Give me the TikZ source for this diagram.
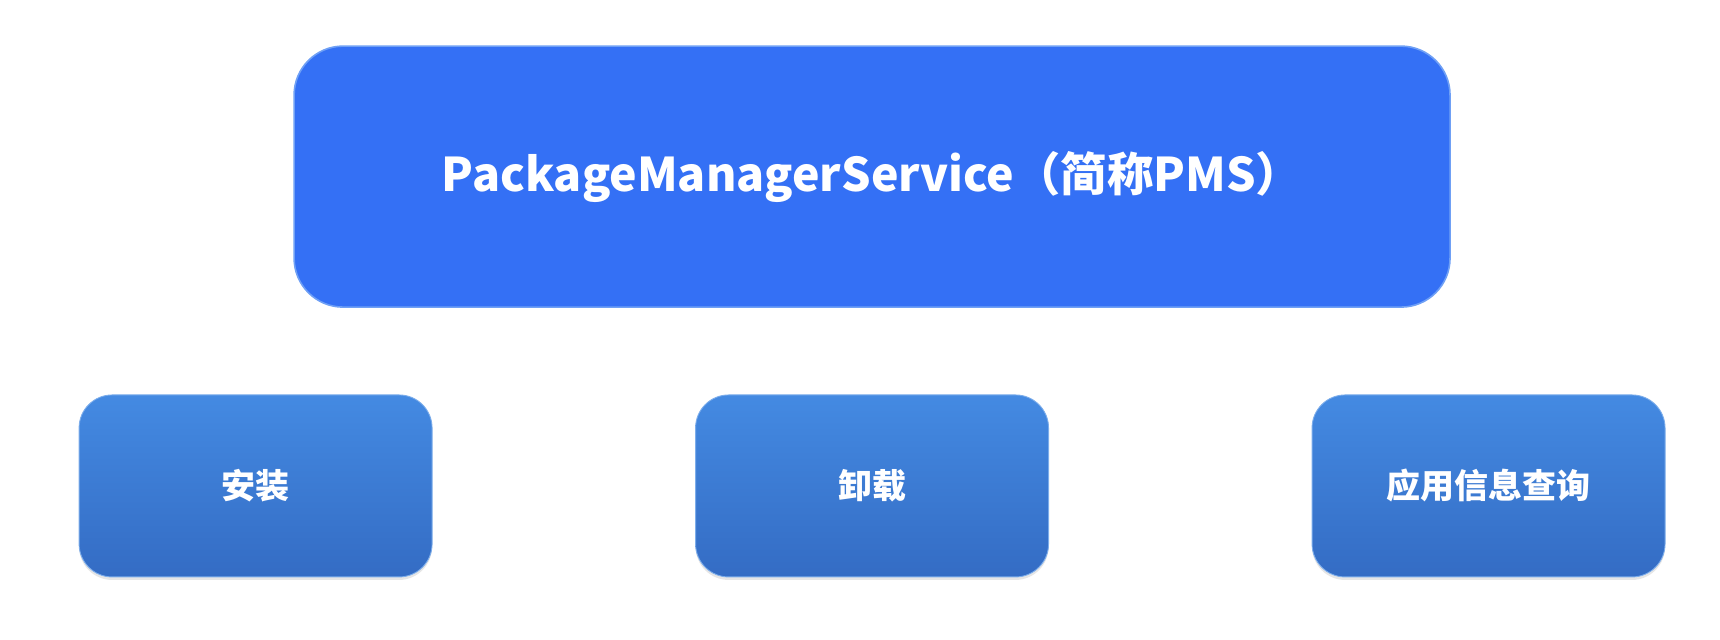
\documentclass[tikz,border=0pt]{standalone}
\usepackage{fontspec}
\setmainfont{Noto Sans CJK SC}
\usetikzlibrary{shadows}

\definecolor{pmsblue}{HTML}{3470F5}
\definecolor{pmsedge}{HTML}{6FA0F5}
\definecolor{optop}{HTML}{448AE2}
\definecolor{opbottom}{HTML}{346CC4}

\begin{document}
\begin{tikzpicture}[x=1.097pt, y=1.097pt, text=white, align=center, font=\bfseries]
    \tikzstyle{every node}=[inner sep=0pt];
    \tikzstyle{pmsbox}=[rounded corners=49pt, fill=pmsblue, draw=pmsedge, line width=1.6pt,
        minimum width=1156pt, minimum height=261pt, font=\fontsize{46.4}{52}\selectfont\bfseries];
    \tikzstyle{opbox}=[rounded corners=33pt, top color=optop, bottom color=opbottom,
        draw=optop!70!white, line width=0.9pt, minimum width=353pt, minimum height=182pt,
        drop shadow={shadow xshift=0pt, shadow yshift=-3pt, opacity=0.2},
        font=\fontsize{34}{40}\selectfont\bfseries];

    \useasboundingbox (0,0) rectangle (1568,583.4);

    \node at ( 795, 422.4) (pms) [pmsbox] {PackageManagerService（简称PMS）};

    \node at ( 233, 140.4) (install)   [opbox] {安装};
    \node at ( 795, 140.4) (uninstall) [opbox] {卸载};
    \node at (1357, 140.4) (query)     [opbox] {应用信息查询};
\end{tikzpicture}
\end{document}
